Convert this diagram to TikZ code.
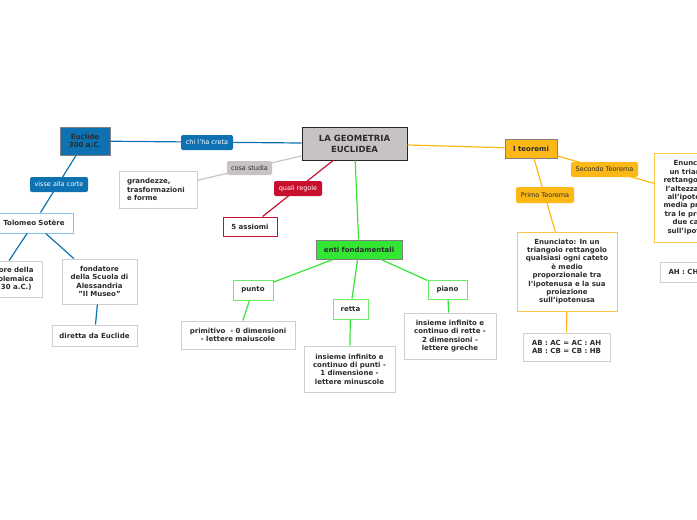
\documentclass[tikz,border=0pt]{standalone}
\usepackage{fontspec}
\setmainfont{DejaVu Sans}
\definecolor{txt}{HTML}{2B2B2B}
\definecolor{cblue}{HTML}{0E72B2}
\definecolor{clblue}{HTML}{86C3EC}
\definecolor{cred}{HTML}{C8102E}
\definecolor{cgray}{HTML}{C8C3C3}
\definecolor{cgreen}{HTML}{33E633}
\definecolor{clgreen}{HTML}{66EE66}
\definecolor{corange}{HTML}{FBB817}
\definecolor{clorange}{HTML}{FBC64A}
\definecolor{bgray}{HTML}{CFCFCF}
\newcommand\fnode{\fontsize{7}{8.4}\selectfont\bfseries}
\newcommand\flabel{\fontsize{6.5}{7.5}\selectfont}
\newcommand\ftitle{\fontsize{8.5}{11}\selectfont\bfseries}
\tikzset{
  base/.style={font=\fnode, text=txt, align=center, inner sep=0pt, line width=1pt},
  wbox/.style={base, draw=bgray, fill=white},
  pill/.style={font=\flabel, rounded corners=2pt, inner sep=0pt, minimum height=15pt},
  conn/.style={line width=1.2pt},
}
\begin{document}
\begin{tikzpicture}[x=1pt,y=-1pt]
\useasboundingbox (0,0) rectangle (697,520);
\clip (0,0) rectangle (697,520);
% main
\node[base, font=\ftitle, draw=black!85, fill=cgray, minimum width=105pt, minimum height=33pt] (main) at (354.5,143.5) {LA GEOMETRIA\\EUCLIDEA};
% Euclide branch
\node[base, draw=gray, fill=cblue, minimum width=50pt, minimum height=28pt] (euclide) at (85,141) {Euclide\\300 a.C.};
\node[wbox, draw=clblue, minimum width=78pt, minimum height=20pt] (tolomeo) at (34,223) {Tolomeo Sotère};
\node[wbox, align=right, inner xsep=9pt, minimum height=36pt, anchor=east] (dinastia) at (43,279) {fondatore della\\dinastia Tolemaica\hspace*{3pt}\\(305 - 30 a.C.)\hspace*{2pt}};
\node[wbox, minimum width=75pt, minimum height=45pt] (fondatore) at (99.5,281.5) {fondatore\\della Scuola di\\Alessandria\\"Il Museo"};
\node[wbox, minimum width=85pt, minimum height=21pt] (diretta) at (94.5,335.5) {diretta da Euclide};
% gray / red
\node[wbox, align=left, text width=62pt, inner xsep=8pt, minimum height=37pt] (grandezze) at (158,189.5) {grandezze,\\trasformazioni\\e forme};
\node[wbox, draw=cred, minimum width=54pt, minimum height=19pt] (assiomi) at (250,226.5) {5 assiomi};
% green
\node[base, draw=gray, fill=cgreen, minimum width=86pt, minimum height=19pt] (enti) at (359,249.5) {enti fondamentali};
\node[wbox, draw=clgreen, minimum width=40pt, minimum height=20pt] (punto) at (253,290) {punto};
\node[wbox, draw=clgreen, minimum width=35pt, minimum height=20pt] (retta) at (350.5,309) {retta};
\node[wbox, draw=clgreen, minimum width=39pt, minimum height=19pt] (piano) at (447.5,289.5) {piano};
\node[wbox, minimum width=114pt, minimum height=28pt] (primitivo) at (238,335) {primitivo\ \ - 0 dimensioni\\- lettere maiuscole};
\node[wbox, minimum width=91pt, minimum height=46pt] (ipunti) at (349.5,369) {insieme infinito e\\continuo di punti -\\1 dimensione -\\lettere minuscole};
\node[wbox, minimum width=92pt, minimum height=46pt] (irette) at (450,336) {insieme infinito e\\continuo di rette -\\2 dimensioni -\\lettere greche};
% orange
\node[base, draw=gray, fill=corange, minimum width=52pt, minimum height=19pt] (teoremi) at (531,148.5) {I teoremi};
\node[wbox, draw=clorange, minimum width=100pt, minimum height=79pt] (enun1) at (567,271.5) {Enunciato: In un\\triangolo rettangolo\\qualsiasi ogni cateto\\è medio\\proporzionale tra\\l'ipotenusa e la sua\\proiezione\\sull'ipotenusa};
\node[wbox, minimum width=87pt, minimum height=28pt] (ab) at (566.5,347) {AB : AC = AC : AH\\AB : CB = CB : HB};
\node[wbox, draw=clorange, align=left, inner xsep=9pt, minimum height=89pt, anchor=west] (enun2) at (654,197.5) {\hspace*{10pt}Enunciato: In\\\hspace*{6pt}un triangolo\\rettangolo ABC\\\hspace*{2pt}l'altezza relativa\\\hspace*{4pt}all'ipotenusa è\\media proporzionale\\\hspace*{1pt}tra le proiezioni\\\hspace*{9pt}due cateti\\\hspace*{4pt}sull'ipotenusa};
\node[wbox, align=left, inner xsep=8pt, minimum height=20pt, anchor=west] (ah) at (660,272) {AH : CH = CH : HB};
% connectors
\draw[conn, cblue] (euclide) -- (main);
\draw[conn, cblue] (euclide) -- (tolomeo);
\draw[conn, cblue] (tolomeo) -- (dinastia);
\draw[conn, cblue] (tolomeo) -- (fondatore);
\draw[conn, cblue] (fondatore) -- (diretta);
\draw[conn, cgray] (main) -- (grandezze);
\draw[conn, cred] (main) -- (assiomi);
\draw[conn, cgreen] (main) -- (enti);
\draw[conn, cgreen] (enti) -- (punto);
\draw[conn, cgreen] (enti) -- (retta);
\draw[conn, cgreen] (enti) -- (piano);
\draw[conn, cgreen] (punto) -- (primitivo);
\draw[conn, cgreen] (retta) -- (ipunti);
\draw[conn, cgreen] (piano) -- (irette);
\draw[conn, corange] (main) -- (teoremi);
\draw[conn, corange] (teoremi) -- (enun2);
\draw[conn, corange] (teoremi) -- (enun1);
\draw[conn, corange] (enun1) -- (ab);
% labels on connectors
\node[pill, fill=cblue, text=white, minimum width=52pt] (lchi) at (207,142.5) {chi l'ha creta};
\node[pill, fill=cblue, text=white, minimum width=58pt] (lvisse) at (59,184.5) {visse alla corte};
\node[pill, fill=cgray, text=txt, minimum width=45pt, minimum height=14pt] (lcosa) at (249.5,168) {cosa studia};
\node[pill, fill=cred, text=white, minimum width=48pt] (lquali) at (298,188.5) {quali regole};
\node[pill, fill=corange, text=txt, minimum width=67pt] (lsecondo) at (604.5,169.5) {Secondo Teorema};
\node[pill, fill=corange, text=txt, minimum width=58pt, minimum height=16pt] (lprimo) at (545,195) {Primo Teorema};
\end{tikzpicture}
\end{document}
